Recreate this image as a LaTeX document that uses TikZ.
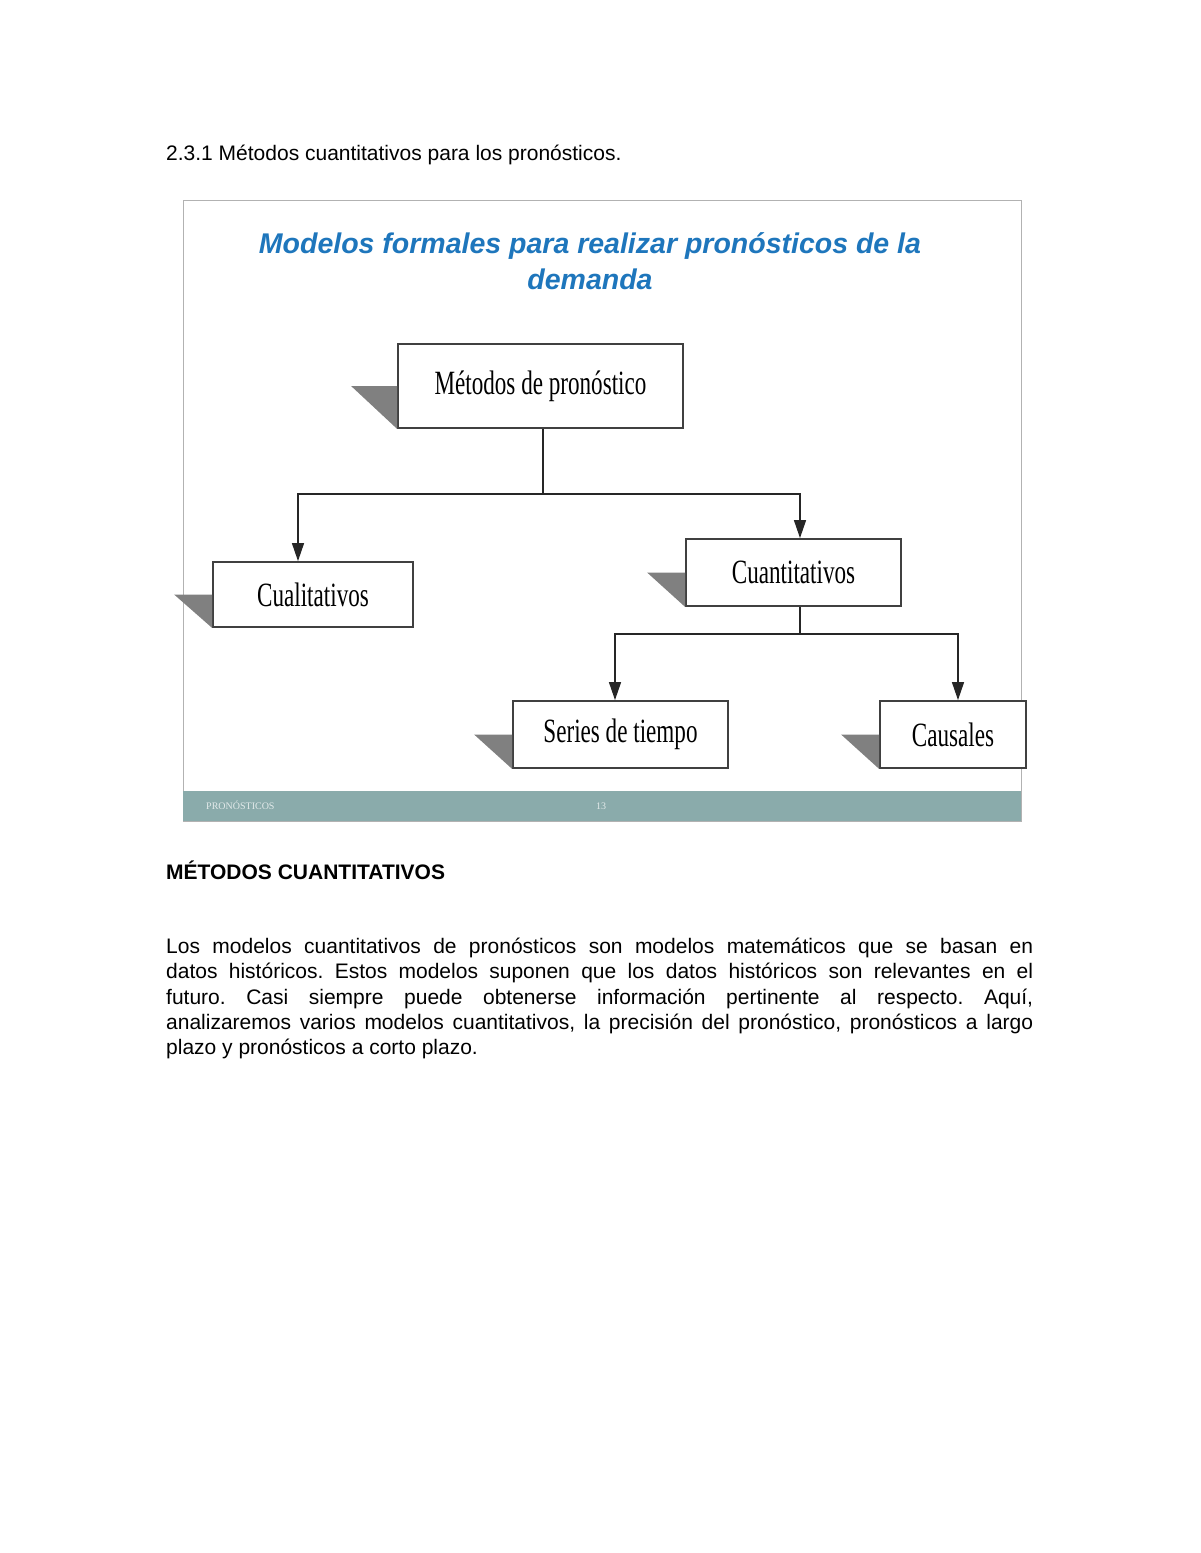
\documentclass[tikz,border=0pt]{standalone}
\usepackage{fontspec}
\setmainfont{Liberation Sans}
\newfontfamily\boxfont[FakeStretch=0.68]{Liberation Serif}
\newfontfamily\footfont{Liberation Serif}
\usetikzlibrary{arrows.meta, positioning}
\definecolor{slideblue}{RGB}{30,118,188}
\definecolor{footbar}{RGB}{138,171,171}
\definecolor{shadowgray}{RGB}{128,128,128}
\frenchspacing

\begin{document}
\begin{tikzpicture}[x=1pt, y=-1pt,
    box/.style={rectangle, draw=black!75, line width=1.8pt, fill=white, inner sep=0pt, font=\boxfont\fontsize{34}{40}\selectfont},
    link/.style={line width=1.3pt, draw=black!85},
    arrow/.style={link, -{Triangle[length=18pt,width=12pt]}},
    doctext/.style={inner sep=0pt, font=\fontsize{21}{25.2}\selectfont}
]
\useasboundingbox (0,0) rectangle (1200,1553);

% heading above the slide
\node (heading) [doctext, anchor=base west] at (166,160) {2.3.1 Métodos cuantitativos para los pronósticos.};

% slide frame and footer
\node (slide) [draw=black!30, line width=0.8pt, minimum width=838pt, minimum height=621pt, inner sep=0pt] at (602,510.5) {};
\node (footer) [fill=footbar, minimum width=838pt, minimum height=30pt, inner sep=0pt, anchor=south] at (slide.south) {};
\node (footname) [anchor=west, inner sep=0pt, text=white!75!footbar, font=\footfont\fontsize{10}{12}\selectfont] at (206,805) {PRONÓSTICOS};
\node (pagenum) [inner sep=0pt, text=white!75!footbar, font=\footfont\fontsize{10}{12}\selectfont] at (601,806) {13};

\node (title) [align=center, inner sep=0pt, text=slideblue, font=\bfseries\itshape\fontsize{28.5}{36}\selectfont] at (590,261) {Modelos formales para realizar pronósticos de la\\demanda};

% boxes
\node (metodos) [box, minimum width=285pt, minimum height=84pt] at (540.5,386) {Métodos de pronóstico};
\node (cual) [box, minimum width=200pt, minimum height=65pt] at (313,594.5) {Cualitativos};
\node (cuant) [box, minimum width=215pt, minimum height=67pt] at (793.5,572.5) {Cuantitativos};
\node (series) [box, minimum width=215pt, minimum height=67pt] at (620.5,734.5) {Series de tiempo};
\node (causales) [box, minimum width=146pt, minimum height=67pt] at (953,734.5) {Causales};

% shadow wedges
\foreach \n/\w in {metodos/46, cual/38, cuant/38, series/38, causales/38}
    \fill[shadowgray] ([xshift=-\w pt]\n.west) -- (\n.west) -- (\n.south west) -- cycle;

% connectors
\coordinate (split1) at (543,494);
\coordinate (split2) at (800,634);
\draw[link] ([xshift=2.5pt]metodos.south) -- (split1);
\draw[arrow] (split1) -| ([xshift=-15pt]cual.north);
\draw[arrow] (split1) -| ([xshift=6.5pt]cuant.north);
\draw[link] ([xshift=6.5pt]cuant.south) -- (split2);
\draw[arrow] (split2) -| ([xshift=-5.5pt]series.north);
\draw[arrow] (split2) -| ([xshift=5pt]causales.north);

% text below the slide
\node (subhead) [doctext, anchor=base west, font=\fontsize{21}{25.2}\selectfont\bfseries] at (166,879) {MÉTODOS CUANTITATIVOS};
\node (body) [doctext, anchor=north west, text width=867pt, align=justify] at (166,938) {Los modelos cuantitativos de pronósticos son modelos matemáticos que se basan en\linebreak datos históricos. Estos modelos suponen que los datos históricos son relevantes en el\linebreak futuro. Casi siempre puede obtenerse información pertinente al respecto. Aquí,\linebreak analizaremos varios modelos cuantitativos, la precisión del pronóstico, pronósticos a largo\linebreak plazo y pronósticos a corto plazo.};
\end{tikzpicture}
\end{document}
